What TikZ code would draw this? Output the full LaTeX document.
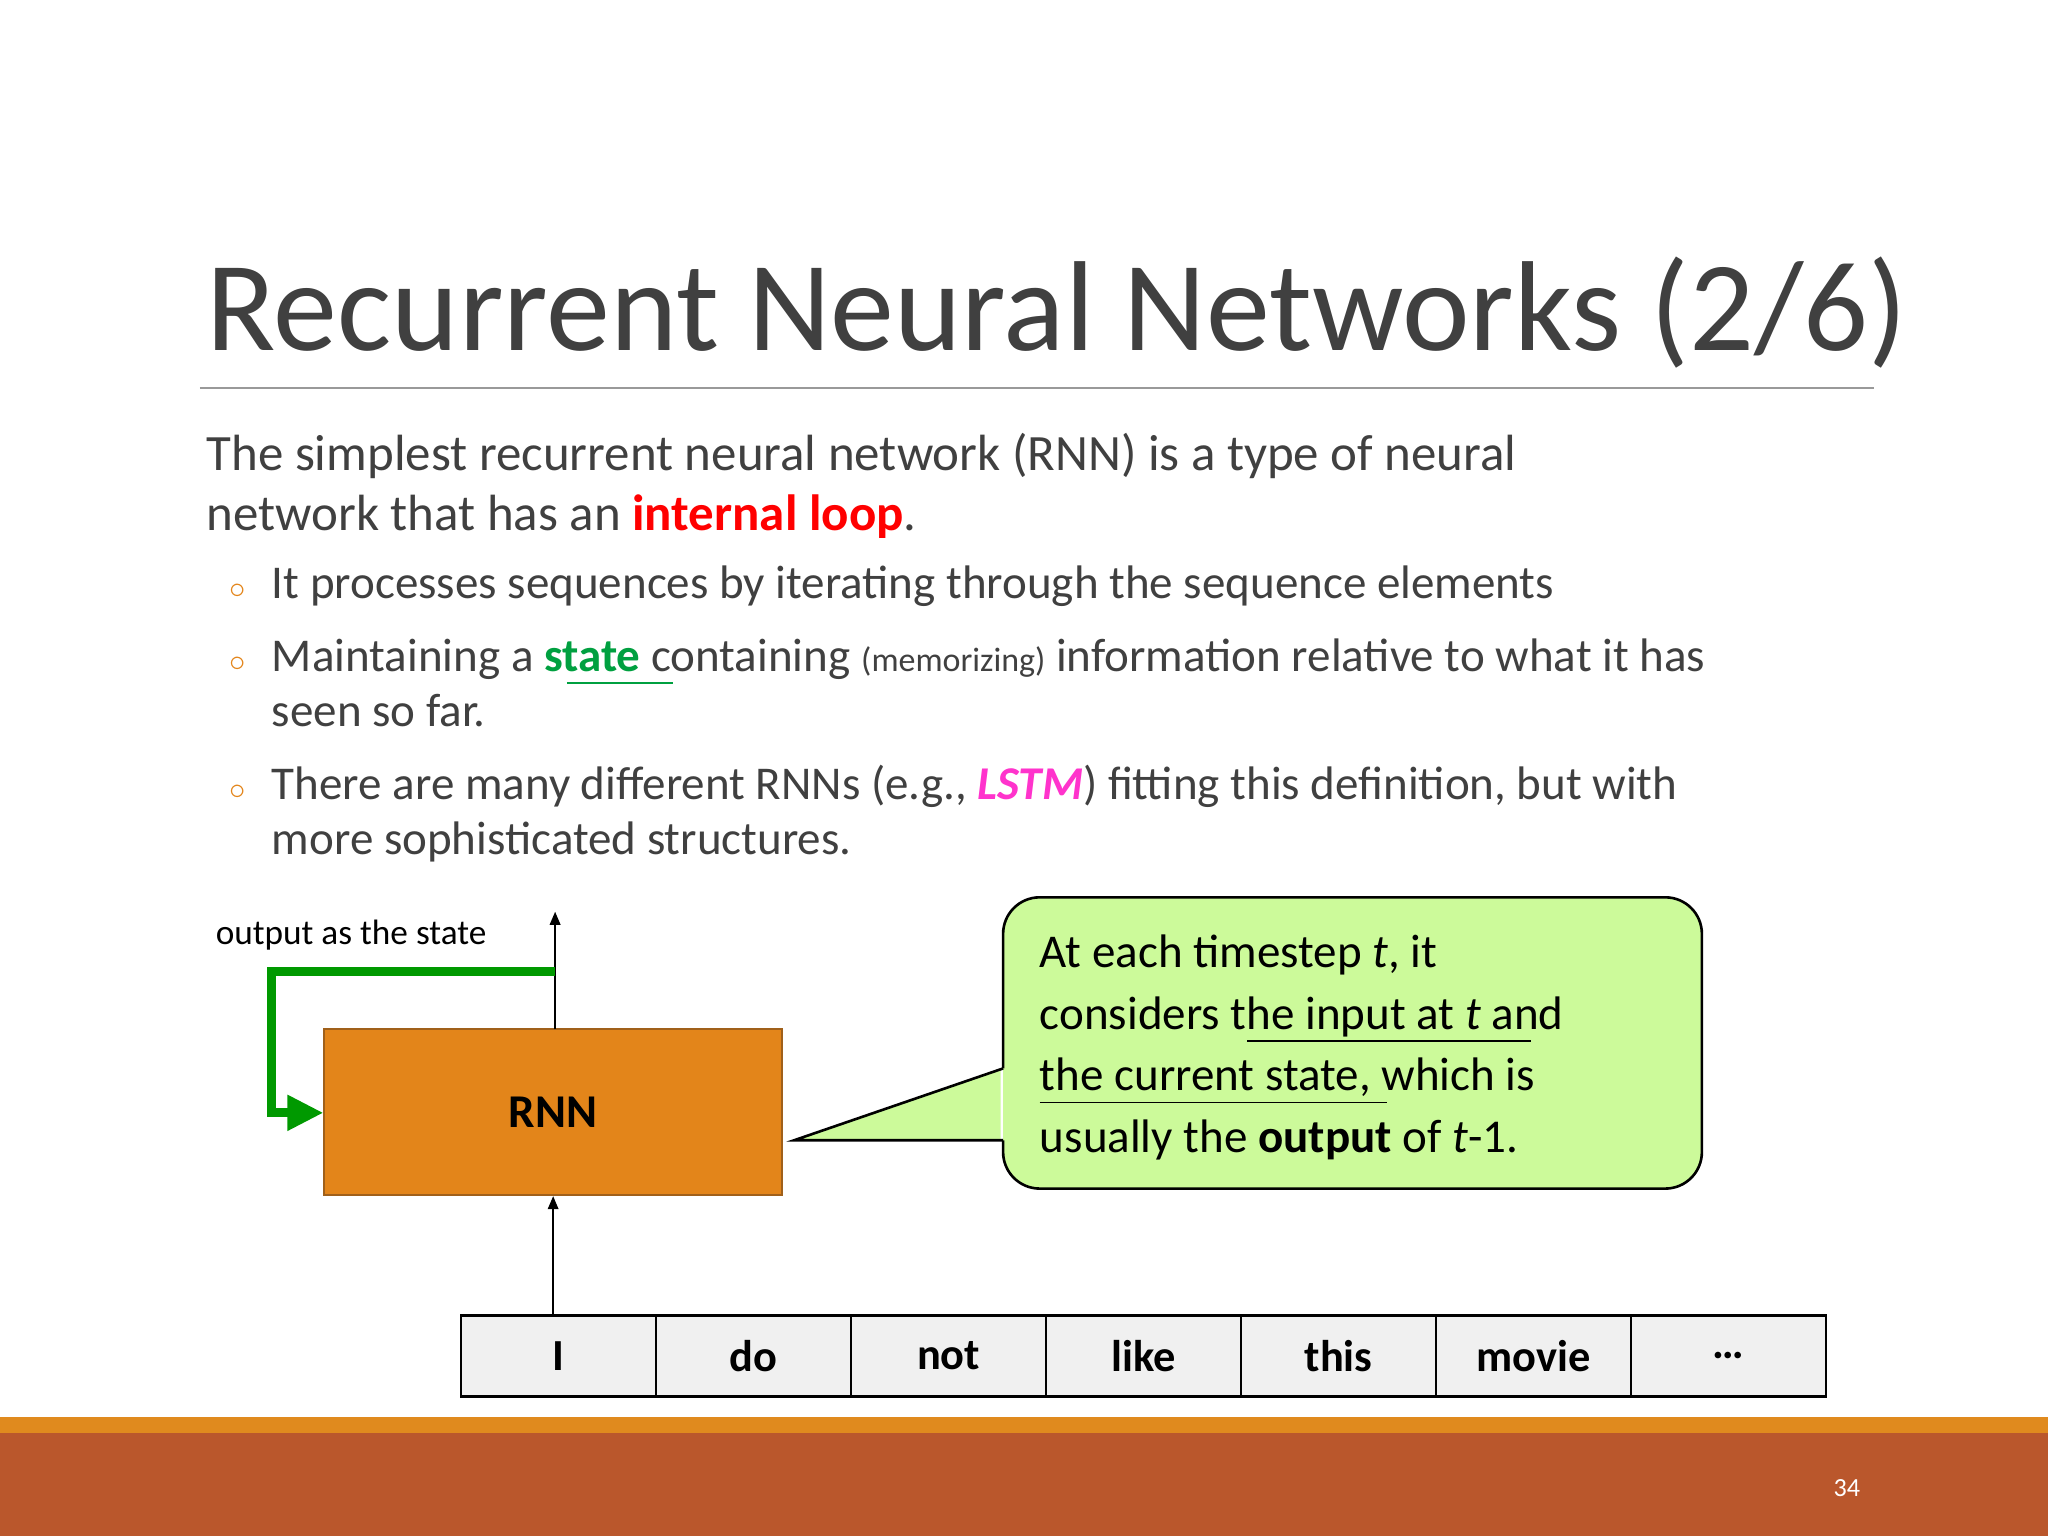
\documentclass[tikz,border=0pt]{standalone}
\usepackage{fontspec}
\setmainfont{Carlito}
\usetikzlibrary{arrows.meta}
\definecolor{txt}{HTML}{404040}
\definecolor{orng}{HTML}{E3851A}
\definecolor{bar1}{HTML}{E08A1E}
\definecolor{bar2}{HTML}{BA572C}
\definecolor{callout}{HTML}{CCFA9A}
\definecolor{grn}{HTML}{00A040}
\definecolor{pink}{HTML}{FF33CC}
\tikzset{
 body/.style={anchor=base west,inner sep=0,text=txt,font=\fontsize{36}{40}\selectfont},
 cell/.style={draw=black,line width=2pt,fill=black!6,minimum width=149.3pt,minimum height=62pt,inner sep=0,font=\fontsize{34}{36}\selectfont\bfseries},
 arr/.style={-{Triangle[length=10pt,width=8pt]},line width=1.5pt}
}
\begin{document}
\begin{tikzpicture}[x=1pt,y=-1pt]
\useasboundingbox (0,0) rectangle (1568,1176);
\fill[white] (0,0) rectangle (1568,1176);
\node[anchor=base west,inner sep=0,text=txt,font=\fontsize{98}{100}\selectfont] (title) at (158,268) {Recurrent Neural Networks (2/6)};
\draw[black!40,line width=1.2pt] (153,297) -- (1435,297);
\node[body,font=\fontsize{39}{44}\selectfont] (l1) at (158,360) {The simplest recurrent neural network (RNN) is a type of neural};
\node[body,font=\fontsize{39}{44}\selectfont] (l2) at (158,406) {network that has an \textcolor{red}{\bfseries internal loop}.};
\foreach \y in {458,514,612} \node[anchor=base,text=orng,font=\fontsize{26}{26}\selectfont] at (182,\y) {$\circ$};
\node[body] (b1) at (208,458) {It processes sequences by iterating through the sequence elements};
\node[body] (b2) at (208,514) {Maintaining a \textcolor{grn}{\bfseries state} containing {\fontsize{26}{28}\selectfont(memorizing)} information relative to what it has};
\draw[grn,line width=1pt] (434,523) -- (515,523);
\node[body] (b2b) at (208,556) {seen so far.};
\node[body] (b3) at (208,612) {There are many different RNNs (e.g., \textcolor{pink}{\bfseries\itshape LSTM}) fitting this definition, but with};
\node[body] (b3b) at (208,654) {more sophisticated structures.};

% diagram
\node[anchor=base west,inner sep=0,font=\fontsize{27}{30}\selectfont] (out) at (165,723) {output as the state};
\node[draw={rgb,255:red,160;green,96;blue,26},line width=1.5pt,fill=orng,minimum width=351pt,minimum height=127pt,inner sep=0,font=\fontsize{36}{36}\selectfont\bfseries] (rnn) at (423.5,851.5) {RNN};
\coordinate (top) at (425,698);
\draw[arr] (425,788) -- (top);
\draw[green!60!black,line width=7pt] (425,744) -- (208,744) -- (208,852) -- (222,852);
\fill[green!60!black] (220,838) -- (247,852) -- (220,866) -- cycle;
\foreach \w [count=\i] in {I,do,not,like,this,movie,\dots}
  \node[cell] (c\i) at (353+74.65+149.3*\i-149.3,1038) {\w};
\draw[arr] (c1.north -| rnn.south) -- (rnn.south);

% callout
\draw[line width=2pt,fill=callout,rounded corners=28pt] (768,818) -- (768,687) -- (1303,687) -- (1303,910) -- (768,910) -- (768,873);
\fill[callout] (766,818) -- (608,873) -- (766,873) -- cycle;
\draw[line width=2pt] (768,818) -- (608,873) -- (768,873);
\node[body,text=black] (t1) at (796,741) {At each timestep \textit{t}, it};
\node[body,text=black] (t2) at (796,788) {considers the input at \textit{t} and};
\node[body,text=black] (t3) at (796,835) {the current state, which is};
\node[body,text=black] (t4) at (796,882) {usually the \textbf{output} of \textit{t}-1.};
\draw[line width=1pt] (955,797) -- (1172,797);
\draw[line width=1pt] (796,844) -- (1062,844);

% footer
\fill[bar1] (0,1085) rectangle (1568,1097);
\fill[bar2] (0,1097) rectangle (1568,1176);
\node[anchor=base,text=white,inner sep=0,font=\fontsize{20}{20}\selectfont] (pg) at (1414,1146) {34};
\end{tikzpicture}
\end{document}
